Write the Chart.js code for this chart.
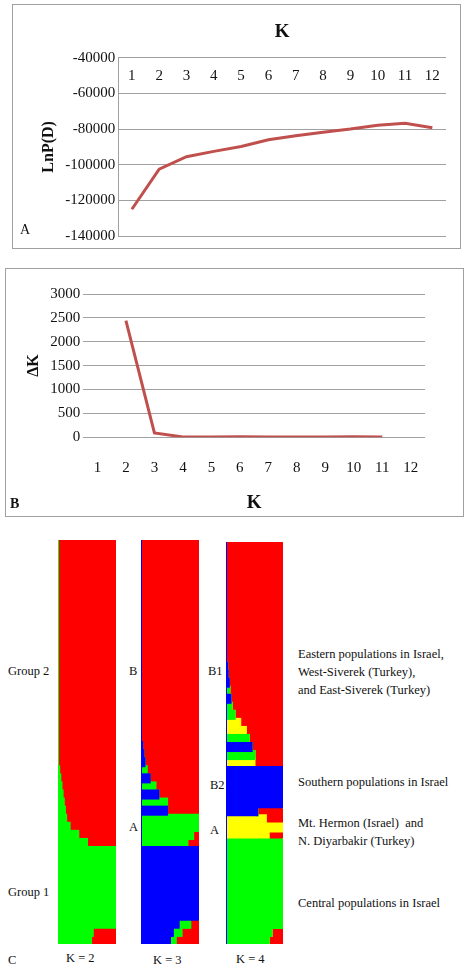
<!DOCTYPE html>
<html>
<head>
<meta charset="utf-8">
<script src="https://cdn.jsdelivr.net/npm/chart.js@4"></script>
<style>
body { margin: 0; width: 474px; height: 972px; background: #fff; position: relative; font-family: "Liberation Serif", serif; overflow: hidden; }
.box { position: absolute; border: 1.5px solid #a0a0a0; box-sizing: border-box; }
.cv { position: absolute; }
.t { position: absolute; font-size: 12.5px; color: #111; white-space: nowrap; line-height: 14px; }
</style>
</head>
<body>
<div class="box" style="left:12px;top:4px;width:449px;height:245px"><canvas id="chartA"></canvas></div>
<div class="box" style="left:5px;top:268px;width:459px;height:249px"><canvas id="chartB"></canvas></div>
<div class="t" style="left:20px;top:223px;font-size:14px">A</div>
<div class="t" style="left:10px;top:497px;font-size:14px;font-weight:bold">B</div>

<div class="cv" style="left:58px;top:540px;width:58px;height:404px"><canvas id="k2"></canvas></div>
<div class="cv" style="left:141px;top:540px;width:58px;height:404px"><canvas id="k3"></canvas></div>
<div class="cv" style="left:226px;top:542px;width:57px;height:402px"><canvas id="k4"></canvas></div>

<div class="t" style="left:8px;top:664px">Group 2</div>
<div class="t" style="left:8px;top:885px">Group 1</div>
<div class="t" style="left:129px;top:664px">B</div>
<div class="t" style="left:129px;top:820px">A</div>
<div class="t" style="left:208px;top:664px">B1</div>
<div class="t" style="left:210px;top:778px">B2</div>
<div class="t" style="left:210px;top:823px">A</div>
<div class="t" style="left:8px;top:953px">C</div>
<div class="t" style="left:66px;top:951px">K = 2</div>
<div class="t" style="left:153px;top:953px">K = 3</div>
<div class="t" style="left:236px;top:952px">K = 4</div>
<div class="t" style="left:298px;top:645px;line-height:18px">Eastern populations in Israel,<br>West-Siverek (Turkey),<br>and East-Siverek (Turkey)</div>
<div class="t" style="left:298px;top:775px">Southern populations in Israel</div>
<div class="t" style="left:298px;top:814px;line-height:18px">Mt. Hermon (Israel)&nbsp; and<br>N. Diyarbakir (Turkey)</div>
<div class="t" style="left:298px;top:896px">Central populations in Israel</div>

<script>
// K values for panels A and B
const kLabels = ['1','2','3','4','5','6','7','8','9','10','11','12'];
const lnPD = [-125000, -102500, -95500, -92500, -89800, -86000, -83800, -81800, -80000, -77800, -76800, -79200];
const deltaK = [null, 2440, 90, 5, 5, 8, 5, 5, 5, 8, 5, null];

// STRUCTURE rows (top to bottom), 50 individuals, membership fractions
const k2Green = [0,0,0,0,0,0,0,0,0,0, 0,0,0,0,0,0,0,0,0,0, 0,0,0,0,0,0,0,0,0.02,0.04,
                 0.06,0.08,0.1,0.12,0.14,0.2,0.35,0.5,1,1, 1,1,1,1,1,1,1,1,0.6,0.57];
const k2Red = k2Green.map(g => 1 - g);

const k3Blue  = [0,0,0,0,0,0,0,0,0,0, 0,0,0,0,0,0,0,0,0,0, 0,0,0,0,0,0.02,0.04,0.06,0,0.15,
                 0,0.3,0,0.45,0,0,0,0,1,1, 1,1,1,1,1,1,1,0.65,0.55,0.5];
const k3Green = [0,0,0,0,0,0,0,0,0,0, 0,0,0,0,0,0,0,0,0,0, 0,0,0,0,0,0,0,0,0.1,0,
                 0.25,0,0.45,0,1,1,0.9,0.8,0,0, 0,0,0,0,0,0,0,0.2,0.15,0.1];
const k3Red = k3Blue.map((b, i) => 1 - b - k3Green[i]);

const k4Blue   = [0,0,0,0,0,0,0,0,0,0, 0,0,0,0,0,0.02,0.03,0.05,0,0.08, 0,0,0,0,0,0.45,0,0,1,1,
                  1,1,1,0.55,0,0,0,0,0,0, 0,0,0,0,0,0,0,0,0,0];
const k4Green  = [0,0,0,0,0,0,0,0,0,0, 0,0,0,0,0,0,0,0,0.06,0, 0.1,0.15,0,0,0.4,0,0.5,0,0,0,
                  0,0,0,0,0,0,0,1,1,1, 1,1,1,1,1,1,1,1,0.8,0.75];
const k4Yellow = [0,0,0,0,0,0,0,0,0,0, 0,0,0,0,0,0,0,0,0,0, 0,0,0.25,0.35,0,0,0,0.5,0,0,
                  0,0,0,0,0.7,1,0.75,0,0,0, 0,0,0,0,0,0,0,0,0,0];
const k4Red = k4Blue.map((b, i) => 1 - b - k4Green[i] - k4Yellow[i]);

Chart.defaults.font.family = "'Liberation Serif', 'Times New Roman', serif";
Chart.defaults.color = '#111';
const lineColor = '#c0504d';
const plain = v => String(v);

// panel A has its K labels inside the plot, just under the top gridline
const innerXLabels = {
    id: 'innerXLabels',
    afterDraw(chart) {
        const { ctx, scales: { x, y } } = chart;
        ctx.save();
        ctx.font = "15px 'Liberation Serif', serif";
        ctx.fillStyle = '#111';
        ctx.textAlign = 'center';
        ctx.textBaseline = 'middle';
        kLabels.forEach((lab, i) => ctx.fillText(lab, x.getPixelForValue(i), y.getPixelForValue(-50000)));
        ctx.restore();
    }
};

new Chart(document.getElementById('chartA'), {
    type: 'line',
    data: { labels: kLabels, datasets: [{ data: lnPD, borderColor: lineColor, borderWidth: 3, pointRadius: 0, tension: 0 }] },
    options: {
        responsive: true, maintainAspectRatio: false, animation: false,
        layout: { padding: { left: 22, right: 14, top: 12, bottom: 8 } },
        plugins: { legend: { display: false }, tooltip: { enabled: false } },
        scales: {
            x: {
                position: 'top', offset: true,
                grid: { display: false }, border: { display: false },
                ticks: { display: false },
                title: { display: true, text: 'K', font: { size: 19, weight: 'bold' }, padding: { bottom: 6 } }
            },
            y: {
                min: -140000, max: -40000,
                ticks: { stepSize: 20000, font: { size: 15 }, callback: plain },
                grid: { color: '#a0a0a0', drawTicks: false },
                border: { color: '#a0a0a0' },
                title: { display: true, text: 'LnP(D)', font: { size: 16, weight: 'bold' } }
            }
        }
    },
    plugins: [innerXLabels]
});

new Chart(document.getElementById('chartB'), {
    type: 'line',
    data: { labels: kLabels, datasets: [{ data: deltaK, borderColor: lineColor, borderWidth: 3, pointRadius: 0, tension: 0 }] },
    options: {
        responsive: true, maintainAspectRatio: false, animation: false,
        layout: { padding: { left: 14, right: 38, top: 25, bottom: 2 } },
        plugins: { legend: { display: false }, tooltip: { enabled: false } },
        scales: {
            x: {
                offset: true,
                grid: { display: false }, border: { display: false },
                ticks: { font: { size: 15 }, padding: 14 },
                title: { display: true, text: 'K', font: { size: 19, weight: 'bold' }, padding: 0 }
            },
            y: {
                min: 0, max: 3000,
                ticks: { stepSize: 500, font: { size: 15 }, callback: plain },
                grid: { color: '#a0a0a0', drawTicks: false },
                border: { display: false },
                title: { display: true, text: 'ΔK', font: { size: 16, weight: 'bold' } }
            }
        }
    }
});

// horizontal stacked bars, one row per individual
function structurePlot(id, series) {
    const rows = series[0].values.map((v, i) => String(i + 1));
    new Chart(document.getElementById(id), {
        type: 'bar',
        data: {
            labels: rows,
            datasets: series.map(s => ({ data: s.values, backgroundColor: s.color, borderColor: s.color,
                barPercentage: 1, categoryPercentage: 1, borderWidth: 0, inflateAmount: 1 }))
        },
        options: {
            indexAxis: 'y', responsive: true, maintainAspectRatio: false, animation: false,
            plugins: { legend: { display: false }, tooltip: { enabled: false } },
            scales: {
                x: { stacked: true, min: 0, max: 1, display: false },
                y: { stacked: true, display: false }
            }
        }
    });
}

structurePlot('k2', [
    { values: k2Green, color: '#00ff00' },
    { values: k2Red, color: '#ff0000' }
]);
structurePlot('k3', [
    { values: k3Blue, color: '#0000ff' },
    { values: k3Green, color: '#00ff00' },
    { values: k3Red, color: '#ff0000' }
]);
structurePlot('k4', [
    { values: k4Blue, color: '#0000ff' },
    { values: k4Green, color: '#00ff00' },
    { values: k4Yellow, color: '#ffff00' },
    { values: k4Red, color: '#ff0000' }
]);
</script>
</body>
</html>
